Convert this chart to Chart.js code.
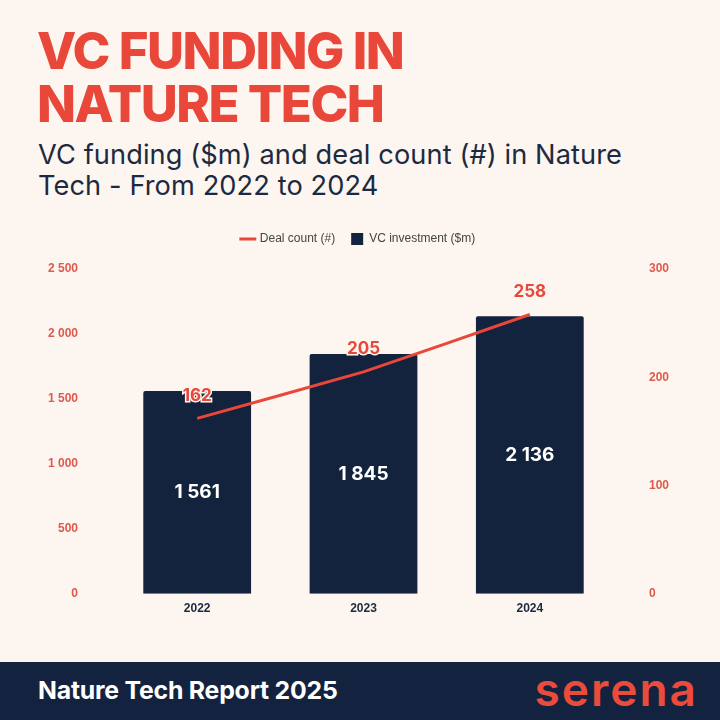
<!DOCTYPE html>
<html>
<head>
<meta charset="utf-8">
<script src="https://cdn.jsdelivr.net/npm/chart.js@4"></script>
<style>
  html,body{margin:0;padding:0}
  body{width:720px;height:720px;background:#fdf5ef;position:relative;overflow:hidden;font-family:Inter,"Noto Sans",sans-serif}
  .title{position:absolute;left:37px;top:24px;color:#e8473a;font-weight:800;font-size:51px;line-height:53px;letter-spacing:-1.5px}
  .sub{position:absolute;left:38px;top:139px;color:#1b2a41;font-size:27.2px;line-height:31px;letter-spacing:0.1px}
  .wrap{position:absolute;left:0;top:217px;width:720px;height:420px}
  .footer{position:absolute;left:0;top:662px;width:720px;height:58px;background:#13233f}
  .footer .rep{position:absolute;left:38px;top:13px;color:#fff;font-weight:700;font-size:24.8px;letter-spacing:-0.2px}
  .footer .logo{position:absolute;right:22px;top:-1px;color:#ea4b3a;font-weight:600;font-size:46px;letter-spacing:2px}
</style>
</head>
<body>
<div class="title">VC FUNDING IN<br>NATURE TECH</div>
<div class="sub">VC funding ($m) and deal count (#) in Nature<br>Tech - From 2022 to 2024</div>
<div class="wrap"><canvas id="c"></canvas></div>
<div class="footer"><span class="rep">Nature Tech Report 2025</span><span class="logo">serena</span></div>
<script>
const years=['2022','2023','2024'];
const investment=[1561,1845,2136];
const deals=[162,205,258];

const red='#e8473a', navy='#13223d';
const fmt=v=>String(v).replace(/\B(?=(\d{3})+(?!\d))/g,' ');

const labelPlugin={
  id:'valueLabels',
  beforeInit(chart){
    const lg=chart.legend;
    if(lg){const fit=lg.fit;lg.fit=function(){fit.call(this);this.height+=14;};}
  },
  afterDatasetsDraw(chart){
    const ctx=chart.ctx;
    ctx.save();
    ctx.textAlign='center';
    chart.getDatasetMeta(1).data.forEach((bar,i)=>{
      ctx.font='bold 19px Inter, sans-serif';
      ctx.fillStyle='#fff';
      ctx.textBaseline='middle';
      ctx.fillText(fmt(investment[i]),bar.x,(bar.y+bar.base)/2);
    });
    chart.getDatasetMeta(0).data.forEach((pt,i)=>{
      ctx.font='bold 17px Inter, sans-serif';
      ctx.textBaseline='bottom';
      ctx.lineWidth=3;ctx.strokeStyle='#fdf5ef';
      ctx.strokeText(deals[i],pt.x,pt.y-14);
      ctx.fillStyle=red;
      ctx.fillText(deals[i],pt.x,pt.y-14);
    });
    ctx.restore();
  }
};

new Chart(document.getElementById('c'),{
  data:{
    labels:years,
    datasets:[
      {type:'line',label:'Deal count (#)',data:deals,yAxisID:'y1',borderColor:red,backgroundColor:red,borderWidth:3,pointRadius:0,tension:0.1,order:0},
      {type:'bar',label:'VC investment ($m)',data:investment,yAxisID:'y',backgroundColor:navy,borderRadius:2,barPercentage:0.8,categoryPercentage:0.81,order:1}
    ]
  },
  options:{
    responsive:true,maintainAspectRatio:false,animation:false,
    layout:{padding:{left:12,right:15,top:0,bottom:0}},
    plugins:{
      legend:{position:'top',labels:{color:'#444',font:{family:'Liberation Sans, Arial',size:12},boxWidth:14,boxHeight:12,padding:16,usePointStyle:true,
        generateLabels(chart){
          return chart.data.datasets.map((d,i)=>({text:d.label,fillStyle:d.backgroundColor,strokeStyle:d.backgroundColor,lineWidth:i===0?3:0,datasetIndex:i,
            pointStyle:i===0?'line':'rect',fontColor:'#444'}));
        }}},
      tooltip:{enabled:false}
    },
    scales:{
      x:{grid:{display:false,drawTicks:false},border:{display:false},ticks:{padding:8,color:'#1b2a41',font:{family:'Liberation Sans, Arial',size:12,weight:'bold'}}},
      y:{position:'left',min:0,max:2500,ticks:{stepSize:500,padding:36,color:'#de5a4e',font:{family:'Liberation Sans, Arial',size:12,weight:'bold'},callback:v=>fmt(v)},grid:{display:false,drawTicks:false},border:{display:false}},
      y1:{position:'right',min:0,max:300,ticks:{stepSize:100,padding:36,color:'#de5a4e',font:{family:'Liberation Sans, Arial',size:12,weight:'bold'}},grid:{display:false,drawTicks:false},border:{display:false}}
    }
  },
  plugins:[labelPlugin]
});
</script>
</body>
</html>
